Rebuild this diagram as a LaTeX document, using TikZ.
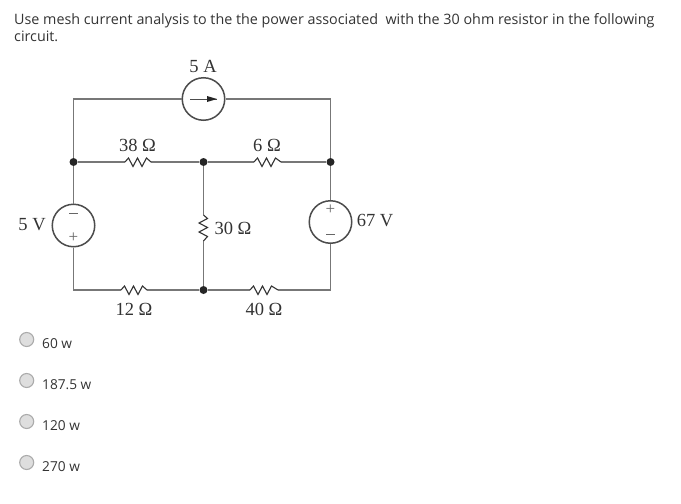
\documentclass[tikz,border=0pt]{standalone}
\usepackage{fontspec}
\setmainfont{Liberation Serif}
\newfontfamily\uifont{Open Sans}
\definecolor{wirec}{HTML}{777777}
\definecolor{inkc}{HTML}{333333}
\definecolor{uitext}{HTML}{333333}
\tikzset{
  wire/.style={draw=wirec,line width=1.3pt},
  zig/.style={draw=inkc,line width=1.1pt,line join=miter},
  dotnode/.style={circle,fill=black!85,inner sep=0pt,minimum size=8pt},
  source/.style={circle,draw=black!70,line width=1.5pt,fill=white,inner sep=0pt,minimum size=42.5pt},
  lab/.style={inner sep=0pt,text=inkc,font=\fontsize{18.5}{18.5}\selectfont},
  sign/.style={inner sep=0pt,text=black!60,font=\fontsize{17}{17}\selectfont},
  para/.style={inner sep=0pt,anchor=base west,text=uitext,font=\uifont\fontsize{14.32}{16}\selectfont},
  radio/.style={circle,draw=black!33,line width=1.1pt,fill=black!13,inner sep=0pt,minimum size=14pt},
  choice/.style={inner sep=0pt,anchor=base west,text=uitext,font=\uifont\fontsize{13.7}{16}\selectfont}
}
\begin{document}
\begin{tikzpicture}[x=1pt,y=-1pt]
\useasboundingbox (0,0) rectangle (681,504);
\node[para] (q1) at (14,24) {Use mesh current analysis to the the power associated\ \ with the 30 ohm resistor in the following};
\node[para] (q2) at (14,41) {circuit.};
% corners
\coordinate (tl) at (73.5,99);
\coordinate (tr) at (330.5,99);
\coordinate (bl) at (73.5,290);
\coordinate (br) at (330.5,290);
% junctions
\node[dotnode] (nl) at (73.5,162) {};
\node[dotnode] (nc) at (203.5,162) {};
\node[dotnode] (nr) at (330.5,162) {};
\node[dotnode] (nb) at (203.5,290) {};
% resistor ends
\coordinate (r38a) at (125,162); \coordinate (r38b) at (151,162);
\coordinate (r6a) at (254,162);  \coordinate (r6b) at (281,162);
\coordinate (r12a) at (121,290); \coordinate (r12b) at (147,290);
\coordinate (r40a) at (250,290); \coordinate (r40b) at (278,290);
\coordinate (r30a) at (203.5,215); \coordinate (r30b) at (203.5,241);
% sources
\node[source] (is) at (203.5,99) {};
\node[source] (vl) at (73.5,225.5) {};
\node[source] (vr) at (330.5,222) {};
% wires
\draw[wire] (is) -- (tl) -- (nl) -- (vl);
\draw[wire] (vl) -- (bl) -- (r12a);
\draw[wire] (r12b) -- (nb) -- (r40a);
\draw[wire] (r40b) -- (br) -- (vr) -- (nr) -- (tr) -- (is);
\draw[wire] (nl) -- (r38a); \draw[wire] (r38b) -- (nc) -- (r6a); \draw[wire] (r6b) -- (nr);
\draw[wire] (nc) -- (r30a); \draw[wire] (r30b) -- (nb);
% resistors
\draw[zig] (r38a) -- ++(3.5,-4) -- ++(4.5,8.5) -- ++(4.5,-8.5) -- ++(4.5,8.5) -- ++(4.5,-8.5) -- (r38b);
\draw[zig] (r6a) -- ++(3.5,-4) -- ++(4.5,8.5) -- ++(4.5,-8.5) -- ++(4.5,8.5) -- ++(4.5,-8.5) -- (r6b);
\draw[zig] (r12a) -- ++(3.5,-4) -- ++(4.5,8.5) -- ++(4.5,-8.5) -- ++(4.5,8.5) -- ++(4.5,-8.5) -- (r12b);
\draw[zig] (r40a) -- ++(3.5,-4) -- ++(4.5,8.5) -- ++(4.5,-8.5) -- ++(4.5,8.5) -- ++(4.5,-8.5) -- (r40b);
\draw[zig] (r30a) -- ++(4,3.5) -- ++(-8.5,4.5) -- ++(8.5,4.5) -- ++(-8.5,4.5) -- ++(8.5,4.5) -- (r30b);
% source arrow
\coordinate (arrA) at (190,99); \coordinate (arrB) at (217,99);
\draw[draw=black!70,line width=1pt] (arrA) -- (arrB);
\fill[black!85] (arrB) -- ++(-10,-3) -- ++(0,6) -- cycle;
% signs
\node[sign] (vlm) at (73.5,213.5) {\rule{9pt}{1pt}};
\node[sign] (vlp) at (73.5,238) {+};
\node[sign] (vrp) at (330.5,210) {+};
\node[sign] (vrm) at (330.5,234) {\rule{9pt}{1pt}};
% labels
\node[lab] (l5a) at (203,66) {5 A};
\node[lab] (l38) at (137.5,145) {38 Ω};
\node[lab] (l6) at (267,145) {6 Ω};
\node[lab] (l5v) at (32,225) {5 V};
\node[lab] (l67) at (375,221) {67 V};
\node[lab] (l30) at (233,228) {30 Ω};
\node[lab] (l12) at (134,309) {12 Ω};
\node[lab] (l40) at (264,309) {40 Ω};
% choices
\node[radio] (c1) at (26.7,339.5) {};
\node[radio] (c2) at (26.7,380.5) {};
\node[radio] (c3) at (26.7,421.5) {};
\node[radio] (c4) at (26.7,462.5) {};
\node[choice] (t1) at (42,348) {60 w};
\node[choice] (t2) at (42,389) {187.5 w};
\node[choice] (t3) at (42,430) {120 w};
\node[choice] (t4) at (42,471) {270 w};
\end{tikzpicture}
\end{document}
